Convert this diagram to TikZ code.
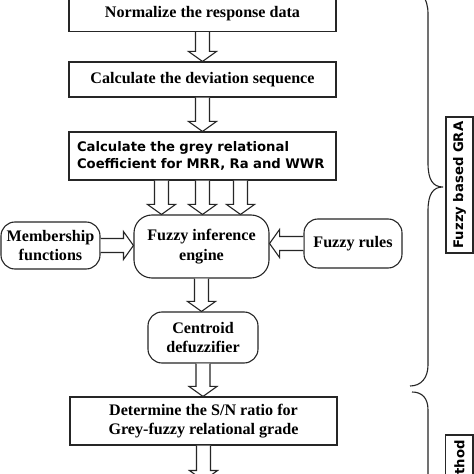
\documentclass[tikz,border=0pt]{standalone}
\usepackage{fontspec}
\setmainfont{Liberation Serif}
\newfontfamily\sansb{DejaVu Sans}
\usetikzlibrary{calc}
\tikzset{
  base/.style={draw=black!85, line width=1.1pt, fill=white, inner sep=2pt, align=center,
    font=\fontsize{16.1}{19.5}\selectfont\bfseries},
  sqbox/.style={base},
  rndbox/.style={base, rounded corners=14pt},
  sansbox/.style={base, font=\fontsize{13.2}{17}\selectfont\sansb\bfseries},
  blk/.style={draw=black!85, line width=1.1pt, fill=white, line join=miter},
  brace/.style={draw=black!85, line width=1.1pt},
}
\newcommand\downarr[2]{\draw[blk] let \p1=(#1), \p2=(#2) in
  (\x1-7,\y1) -- (\x1-7,\y2+10) -- (\x1-14,\y2+10) -- (\x1,\y2) -- (\x1+14,\y2+10) -- (\x1+7,\y2+10) -- (\x1+7,\y1);}
\newcommand\rightarr[2]{\draw[blk] let \p1=(#1), \p2=(#2) in
  (\x1,\y1+7) -- (\x2-10,\y1+7) -- (\x2-10,\y1+14) -- (\x2,\y1) -- (\x2-10,\y1-14) -- (\x2-10,\y1-7) -- (\x1,\y1-7);}
\newcommand\leftarr[2]{\draw[blk] let \p1=(#1), \p2=(#2) in
  (\x1,\y1+7) -- (\x2+10,\y1+7) -- (\x2+10,\y1+14) -- (\x2,\y1) -- (\x2+10,\y1-14) -- (\x2+10,\y1-7) -- (\x1,\y1-7);}
\begin{document}
\begin{tikzpicture}[x=1pt,y=1pt]
\useasboundingbox (0,0) rectangle (474,474);
\clip (0,0) rectangle (474,474);
\fill[white] (0,0) rectangle (474,474);

\node[sqbox, minimum width=267, minimum height=35] (n1) at (202.5,460) {Normalize the response data};
\node[sqbox, minimum width=267, minimum height=35] (n2) at (202.5,394.5) {Calculate the deviation sequence};
\node[sansbox, minimum width=267, minimum height=48, text width=251, inner xsep=8, align=left] (n3) at (202.5,318) {Calculate the grey relational\\Coefficient for MRR, Ra and WWR};
\node[rndbox, rounded corners=18pt, minimum width=135, minimum height=63] (eng) at (201.5,227.5) {Fuzzy inference\\engine};
\node[rndbox, minimum width=99, minimum height=47] (mem) at (50.5,228.5) {Membership\\functions};
\node[rndbox, minimum width=98, minimum height=49] (rul) at (353,230.5) {Fuzzy rules};
\node[rndbox, minimum width=110, minimum height=51] (cen) at (203,136.5) {Centroid\\defuzzifier};
\node[sqbox, minimum width=267, minimum height=48] (sn) at (203.5,53) {Determine the S/N ratio for\\Grey-fuzzy relational grade};
\coordinate (out) at ($(sn.south)+(0,-35)$);

\downarr{n1.south}{n2.north}
\downarr{n2.south}{n3.north}
\downarr{$(n3.south)+(-41,0)$}{$(eng.north)+(-41,0)$}
\downarr{$(n3.south)+(0,0)$}{$(eng.north)+(0,0)$}
\downarr{$(n3.south)+(38,0)$}{$(eng.north)+(38,0)$}
\rightarr{mem.east}{mem.east -| eng.west}
\leftarr{rul.west}{rul.west -| eng.east}
\downarr{eng.south}{cen.north}
\downarr{cen.south}{sn.north}
\downarr{sn.south}{out}

% braces
\draw[brace] (420,482) .. controls (427,474) and (428,468) .. (428,459) -- (428,311)
  .. controls (428,294) and (433,287) .. (443,287)
  .. controls (433,287) and (428,280) .. (428,263) -- (428,109)
  .. controls (428,96) and (421,88) .. (410,88);
\draw[brace] (412,82) .. controls (422,82) and (428,76) .. (428,64) -- (428,-10);

% side labels
\node[sansbox, rotate=90, minimum width=136, minimum height=27, inner sep=0pt] (lab1) at (459.5,289) {Fuzzy based GRA};
\draw[draw=black!85, line width=1.1pt, fill=white] (445.5,39) rectangle (473,-20);
\node[font=\fontsize{13.2}{17}\selectfont\sansb\bfseries, rotate=90, anchor=east, inner sep=0pt] (lab2) at (459.5,34) {thod};
\end{tikzpicture}
\end{document}
